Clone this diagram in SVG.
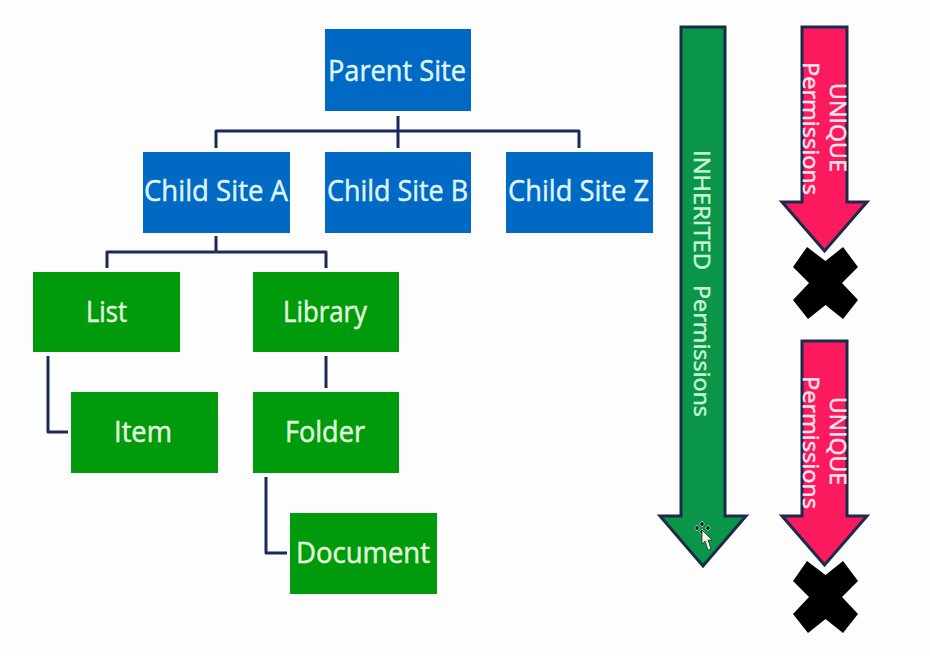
<svg xmlns="http://www.w3.org/2000/svg" width="930" height="656" viewBox="0 0 930 656">
<style>
.bg{fill:#fdfdfd}
.blue{fill:#0069c3}
.green{fill:#009a0d}
.t{font-family:"Open Sans","Noto Sans",sans-serif;font-size:30px;stroke-width:.5}
.tb{fill:#dff3ff;stroke:#dff3ff}
.tg{fill:#e2fbdc;stroke:#e2fbdc}
.conn{fill:none;stroke:#1b2a5a;stroke-width:3;stroke-linejoin:round}
.arrow{stroke:#1a2b4c;stroke-width:3;stroke-linejoin:miter}
.ag{fill:#0a9548}
.ap{fill:#fb1a5e}
.v{font-family:"Open Sans","Noto Sans",sans-serif;stroke-width:.5}
.vg{fill:#c8f5d4;stroke:#c8f5d4;font-size:22px}
.vp{fill:#ffe6ef;stroke:#ffe6ef;font-size:21px}
.x{fill:#000}
</style>
<rect class="bg" width="930" height="656"/>
<g id="connectors">
<path class="conn" d="M398 116V148M216 148V131H579V148"/>
<path class="conn" d="M216 236V252M107 268V252H326V268"/>
<path class="conn" d="M48 356V432H68"/>
<path class="conn" d="M326 356V388"/>
<path class="conn" d="M266 477V553H287"/>
</g>
<g id="parent-site"><rect class="blue" x="325" y="29" width="146" height="82"/><text class="t tb" x="328" y="81" textLength="138" lengthAdjust="spacingAndGlyphs">Parent Site</text></g>
<g id="child-site-a"><rect class="blue" x="143" y="152" width="147" height="81"/><text class="t tb" x="144" y="201" textLength="144" lengthAdjust="spacingAndGlyphs">Child Site A</text></g>
<g id="child-site-b"><rect class="blue" x="325" y="152" width="146" height="81"/><text class="t tb" x="327" y="201" textLength="141" lengthAdjust="spacingAndGlyphs">Child Site B</text></g>
<g id="child-site-z"><rect class="blue" x="506" y="152" width="147" height="81"/><text class="t tb" x="508" y="201" textLength="141" lengthAdjust="spacingAndGlyphs">Child Site Z</text></g>
<g id="list"><rect class="green" x="33" y="272" width="147" height="80"/><text class="t tg" x="86" y="322" textLength="41" lengthAdjust="spacingAndGlyphs">List</text></g>
<g id="library"><rect class="green" x="253" y="272" width="146" height="80"/><text class="t tg" x="283" y="322" textLength="84" lengthAdjust="spacingAndGlyphs">Library</text></g>
<g id="item"><rect class="green" x="71" y="392" width="147" height="81"/><text class="t tg" x="114" y="442" textLength="58" lengthAdjust="spacingAndGlyphs">Item</text></g>
<g id="folder"><rect class="green" x="253" y="392" width="146" height="81"/><text class="t tg" x="285" y="442" textLength="80" lengthAdjust="spacingAndGlyphs">Folder</text></g>
<g id="document"><rect class="green" x="290" y="513" width="147" height="81"/><text class="t tg" x="296" y="563" textLength="134" lengthAdjust="spacingAndGlyphs">Document</text></g>
<g id="inherited-arrow">
<path class="arrow ag" d="M681 27H725V516H746L703 566L660 516H681Z"/>
<text class="v vg" transform="translate(694 150) rotate(90)"><tspan textLength="120" lengthAdjust="spacingAndGlyphs">INHERITED</tspan><tspan x="135" textLength="132" lengthAdjust="spacingAndGlyphs">Permissions</tspan></text>
<path d="M702 521l2.500 3-2.500 3-2.500-3zM702 529l2.500 3-2.500 3-2.500-3zM697 525l2.500 3-2.500 3-2.500-3zM708 525l2.500 3-2.500 3-2.500-3z" fill="#10241a" stroke="#dff" stroke-width=".6"/>
<path d="M702 530L702 544L705 541L708 550L711 549L708 540L712 540Z" fill="#f4f4ea" stroke="#222" stroke-width=".7"/>
</g>
<g id="unique-arrow-1">
<path class="arrow ap" d="M802 27H847V202H867L824.500 251L782 202H802Z"/>
<text class="v vp" transform="translate(830 83) rotate(90)" textLength="89" lengthAdjust="spacingAndGlyphs">UNIQUE</text>
<text class="v vp" transform="translate(803 62) rotate(90)" textLength="133" lengthAdjust="spacingAndGlyphs">Permissions</text>
</g>
<path id="cross-1" class="x" d="M807 247L825.500 261L843 247L858 267L842 283L858 300L843 319L825.500 305L808 319L793 300L809 283L793 267Z"/>
<g id="unique-arrow-2">
<path class="arrow ap" d="M802 341H847V516H867L824.500 565L782 516H802Z"/>
<text class="v vp" transform="translate(830 397) rotate(90)" textLength="88" lengthAdjust="spacingAndGlyphs">UNIQUE</text>
<text class="v vp" transform="translate(803 376) rotate(90)" textLength="133" lengthAdjust="spacingAndGlyphs">Permissions</text>
</g>
<path id="cross-2" class="x" d="M807 561L825.500 575L843 561L858 581L842 597L858 614L843 633L825.500 619L808 633L793 614L809 597L793 581Z"/>
</svg>
